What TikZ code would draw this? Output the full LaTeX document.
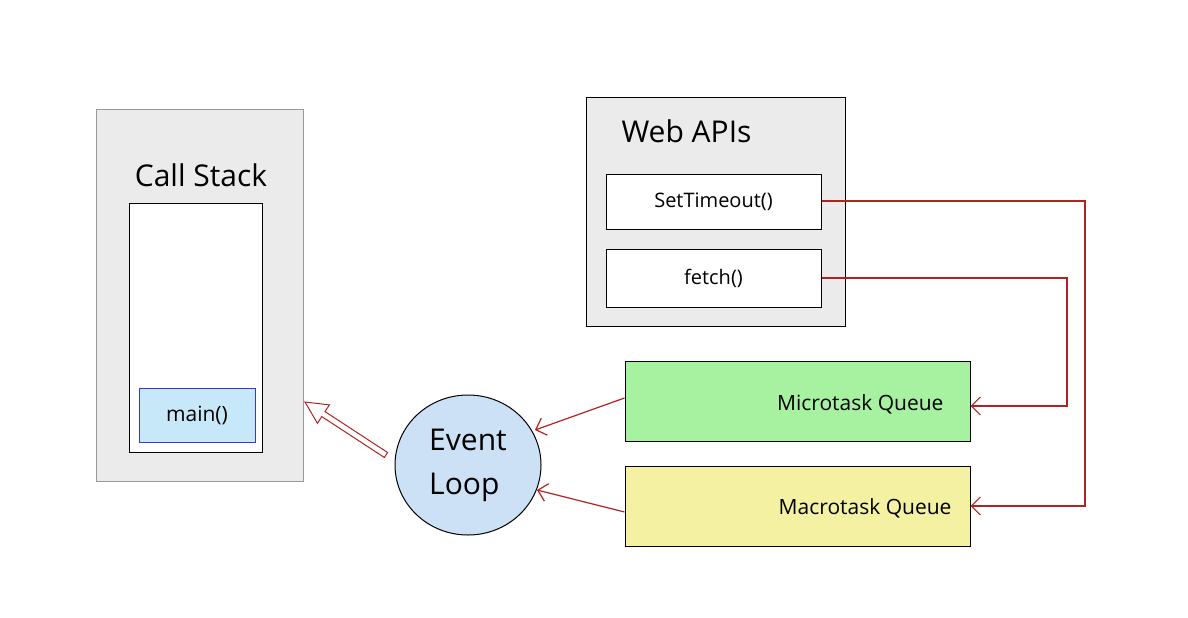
\documentclass[tikz,border=0pt]{standalone}
\usepackage{fontspec}
\setmainfont{Open Sans}
\usetikzlibrary{arrows.meta,shapes.geometric}
\definecolor{panel}{HTML}{EBEBEB}
\definecolor{arr}{HTML}{B22222}
\definecolor{mainc}{HTML}{C6E8F8}
\definecolor{microc}{HTML}{A6F2A0}
\definecolor{macroc}{HTML}{F4F2A2}
\definecolor{loopc}{HTML}{CCE1F6}
\tikzset{
  panelbox/.style={draw=#1, fill=panel, line width=1pt},
  apibox/.style={draw=black, fill=white, line width=1pt, minimum width=215pt, minimum height=55pt, font=\fontsize{20}{24}\selectfont},
  queuebox/.style={draw=black, line width=1pt, minimum width=345pt, minimum height=80pt},
  redarrow/.style={draw=arr, line width=1.2pt, -{Straight Barb[length=9pt,width=18pt]}},
  title/.style={font=\fontsize{30}{36}\selectfont}
}
\begin{document}
\begin{tikzpicture}[x=1pt,y=-1pt]
\useasboundingbox (0,0) rectangle (1188,618);
% Call stack
\draw[panelbox=gray!80] (96,109) rectangle (303,481);
\node[title] (cstitle) at (201,175) {Call Stack};
\draw[line width=1pt, fill=white] (129,203) rectangle (262,452);
\node[draw=blue!55!gray, fill=mainc, line width=1pt, minimum width=116pt, minimum height=54pt, font=\fontsize{21}{25}\selectfont] (main) at (197,415) {main()};
% Web APIs
\draw[panelbox=black] (586,97) rectangle (845,326);
\node[title, anchor=west] (webtitle) at (618,131) {Web APIs};
\node[apibox] (st) at (713.5,202) {SetTimeout()};
\node[apibox, minimum height=58pt] (fe) at (713.5,278) {fetch()};
% Queues
\node[queuebox, fill=microc] (micro) at (797.5,401.5) {};
\node[font=\fontsize{21}{25}\selectfont, anchor=east] (microt) at (947,404) {Microtask Queue};
\node[queuebox, fill=macroc] (macro) at (797.5,506) {};
\node[font=\fontsize{21}{25}\selectfont, anchor=east] (macrot) at (955,508) {Macrotask Queue};
% Event loop
\node[ellipse, draw=black, fill=loopc, line width=1pt, minimum width=146pt, minimum height=140pt, align=left, font=\fontsize{30}{44}\selectfont] (loop) at (468,465) {Event\\Loop};
% connectors
\coordinate (stc) at (1085,201);
\coordinate (fec) at (1067,278);
\draw[redarrow] (st.east |- 0,201) -- (stc) -- (stc |- macro) -- (macro.east);
\draw[redarrow] (fe.east) -- (fec) -- (fec |- 0,406) -- (macro.east |- 0,406);
\draw[redarrow] (micro.west |- 0,398) -- (535,430);
\draw[redarrow] (macro.west |- 0,512) -- (537,490);
% hollow arrow to call stack
\draw[arr, fill=white, line width=1pt, line join=miter]
 (305,402) -- (329.4,404.9) -- (325.0,411.6) -- (387.6,452.5) -- (384.4,457.5) -- (321.8,416.6) -- (317.4,423.3) -- cycle;
\end{tikzpicture}
\end{document}
